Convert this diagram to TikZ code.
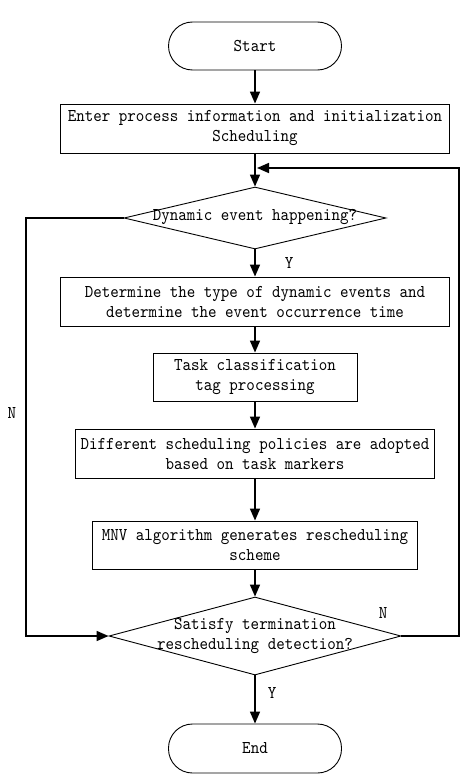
\documentclass[tikz,border=0pt]{standalone}
\usepackage{fontspec}
\setmainfont[FakeStretch=0.9]{lmmono10-regular.otf}
\usetikzlibrary{shapes.geometric,arrows.meta}
\begin{document}
\begin{tikzpicture}[x=1pt,y=-1pt,
  font=\fontsize{18}{20}\selectfont,
  box/.style={draw,line width=0.9pt,inner sep=0pt,align=center},
  term/.style={box,rounded corners=24pt},
  dec/.style={draw,line width=0.9pt,diamond,inner sep=0pt},
  conn/.style={line width=1.6pt,-{Triangle[length=12pt,width=10pt]}},
  lab/.style={inner sep=0pt}]
\useasboundingbox (0,0) rectangle (474,781);
\node[term,minimum width=173pt,minimum height=48pt] (start) at (255,46) {Start};
\node[box,minimum width=389pt,minimum height=49pt] (enter) at (255,128.5) {Enter process information and initialization\\Scheduling};
\node[dec,minimum width=262pt,minimum height=62pt] (d1) at (255,218) {};
\node[lab] (d1t) at (255,217) {Dynamic event happening?};
\node[box,minimum width=389pt,minimum height=49pt] (b2) at (255,301.5) {Determine the type of dynamic events and\\determine the event occurrence time};
\node[box,minimum width=204pt,minimum height=48pt] (b3) at (255,377) {Task classification\\tag processing};
\node[box,minimum width=359pt,minimum height=49pt] (b4) at (255,453.5) {Different scheduling policies are adopted\\based on task markers};
\node[box,minimum width=325pt,minimum height=48pt] (b5) at (255,545) {MNV algorithm generates rescheduling\\scheme};
\node[dec,minimum width=292pt,minimum height=78pt] (d2) at (255,636) {};
\node[lab,align=center] (d2t) at (255,636) {Satisfy termination\\rescheduling detection?};
\node[term,minimum width=173pt,minimum height=49pt] (end) at (255,748.5) {End};
\coordinate (m) at (257,168);
\coordinate (rt) at (459,168);
\coordinate (lt) at (25.7,218);
\draw[conn] (start) -- (enter);
\draw[conn] (enter) -- (d1);
\draw[conn] (d1) -- (b2);
\draw[conn] (b2) -- (b3);
\draw[conn] (b3) -- (b4);
\draw[conn] (b4) -- (b5);
\draw[conn] (b5) -- (d2);
\draw[conn] (d2) -- (end);
\draw[conn] (d2.east) -| (rt) -- (m);
\draw[conn] (d1.west) -- (lt) |- (d2.west);
\node[lab] (y1) at (289,263) {Y};
\node[lab] (n1) at (12,413) {N};
\node[lab] (n2) at (383,613) {N};
\node[lab] (y2) at (272,693) {Y};
\end{tikzpicture}
\end{document}
